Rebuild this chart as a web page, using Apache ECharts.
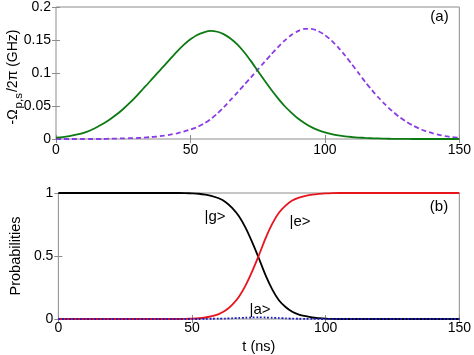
<!DOCTYPE html>
<html><head><meta charset="utf-8">
<script src="https://cdn.jsdelivr.net/npm/echarts@6/dist/echarts.min.js"></script>
<style>html,body{margin:0;padding:0;background:#fff}#c{width:474px;height:355px}</style>
</head><body><div id="c"></div>
<script>
// ---- data ----
const tGrid = [0,2.5,5,7.5,10,12.5,15,17.5,20,22.5,25,27.5,30,32.5,35,37.5,40,42.5,45,47.5,
  50,52.5,55,57.5,60,62.5,65,67.5,70,72.5,75,77.5,80,82.5,85,87.5,90,92.5,95,97.5,
  100,102.5,105,107.5,110,112.5,115,117.5,120,122.5,125,127.5,130,132.5,135,137.5,140,142.5,145,147.5,150];

// panel (a): pulse amplitudes -Omega/2pi (GHz)
const omegaS = [0.002,0.003,0.0045,0.0065,0.009,0.0125,0.0175,0.023,0.0295,0.037,
  0.0455,0.055,0.0655,0.0765,0.0875,0.099,0.110,0.1215,0.1325,0.1425,
  0.151,0.1575,0.1615,0.1637,0.1625,0.1585,0.152,0.143,0.1315,0.118,
  0.1035,0.089,0.075,0.062,0.050,0.040,0.031,0.024,0.018,0.0135,
  0.010,0.0075,0.0055,0.004,0.003,0.0022,0.0016,0.0011,0.0008,0.0005,
  0.0003,0.0002,0.0001,0,0,0,0,0,0,0,
  0];
const omegaP = [0,0,0,0,0,0,0,0,0.0005,0.0007,
  0.001,0.0012,0.0015,0.002,0.0028,0.0038,0.005,0.0066,0.0087,0.0112,
  0.0143,0.018,0.0233,0.030,0.0385,0.0485,0.0595,0.0705,0.082,0.0935,
  0.105,0.1165,0.128,0.139,0.149,0.1575,0.1635,0.167,0.1668,0.1635,
  0.1575,0.149,0.1385,0.1265,0.1135,0.100,0.0865,0.074,0.0625,0.052,
  0.0425,0.034,0.027,0.021,0.016,0.012,0.0088,0.0062,0.0042,0.0027,
  0.0017];

// panel (b): state probabilities
const probG = [1,1,1,1,1,1,1,1,1,1,1,1,1,1,1,1,1,1,1,
  0.999,0.997,0.994,0.987,0.976,0.958,0.929,0.882,0.817,0.725,0.610,0.482,0.348,0.235,0.149,0.095,0.057,0.035,0.022,0.012,0.007,0.003,0.001,
  0,0,0,0,0,0,0,0,0,0,0,0,0,0,0,0,0,0,0];
const probE = [0,0,0,0,0,0,0,0,0,0,0,0,0,0,0,0,0,0,0,
  0.001,0.003,0.006,0.012,0.022,0.039,0.067,0.112,0.175,0.265,0.378,0.505,0.64,0.755,0.843,0.90,0.94,0.963,0.977,0.987,0.993,0.997,0.999,
  1,1,1,1,1,1,1,1,1,1,1,1,1,1,1,1,1,1,1];
const probA = [0,0,0,0,0,0,0,0,0,0,0,0,0,0,0,0,0,0,0,0,0,0,
  0.001,0.002,0.003,0.004,0.006,0.008,0.010,0.012,0.013,0.012,0.010,0.008,0.005,0.003,0.002,0.001,0.001,
  0,0,0,0,0,0,0,0,0,0,0,0,0,0,0,0,0,0,0,0,0,0];

const tRange = [0, 150], tStep = 50;
const pulseRange = [0, 0.2], pulseStep = 0.05;
const probRange = [0, 1], probStep = 0.5;

// ---- styles ----
const FONT = '"Liberation Sans", Arial, Helvetica, sans-serif';
const GRAY = '#8c8c8c';
const pair = (xs, ys) => xs.map((x, i) => [x, ys[i]]);

function xAx(grid, pos, showLabel, margin, extra) {
  return Object.assign({
    gridIndex: grid, type: 'value', position: pos, min: tRange[0], max: tRange[1], interval: tStep,
    axisLine: { show: false },
    axisTick: { show: true, inside: true, length: 4, lineStyle: { color: GRAY, width: 1 } },
    axisLabel: { show: showLabel, margin: margin, color: '#000', fontSize: 14, fontFamily: FONT, hideOverlap: false, showMinLabel: true, showMaxLabel: true },
    splitLine: { show: false }
  }, extra || {});
}
function yAx(grid, pos, showLabel, range, step, extra) {
  return Object.assign({
    gridIndex: grid, type: 'value', position: pos, min: range[0], max: range[1], interval: step,
    axisLine: { show: false },
    axisTick: { show: true, inside: true, length: 4, lineStyle: { color: GRAY, width: 1 } },
    axisLabel: { show: showLabel, margin: 5, color: '#000', fontSize: 14, fontFamily: FONT, hideOverlap: false, showMinLabel: true, showMaxLabel: true },
    splitLine: { show: false }
  }, extra || {});
}
function line(name, xi, yi, data, color, type, width, z) {
  return {
    name: name, type: 'line', xAxisIndex: xi, yAxisIndex: yi, data: data,
    showSymbol: false, smooth: 0.25, clip: true, z: z || 2,
    lineStyle: { color: color, width: width, type: type }, silent: true, animation: false
  };
}

const chart = echarts.init(document.getElementById('c'), null, { renderer: 'canvas' });
chart.setOption({
  backgroundColor: '#fff',
  animation: false,
  grid: [
    { left: 56, top: 5, width: 406, height: 134, show: true, borderColor: GRAY, borderWidth: 1, backgroundColor: 'transparent' },
    { left: 56, top: 193, width: 406, height: 127, show: true, borderColor: GRAY, borderWidth: 1, backgroundColor: 'transparent' }
  ],
  xAxis: [
    xAx(0, 'bottom', true, 4),
    xAx(0, 'top', false, 4),
    xAx(1, 'bottom', true, 2, { name: 't (ns)', nameLocation: 'middle', nameGap: 20,
      nameTextStyle: { color: '#000', fontSize: 14.5, fontFamily: FONT } }),
    xAx(1, 'top', false, 2)
  ],
  yAxis: [
    yAx(0, 'left', true, pulseRange, pulseStep),
    yAx(0, 'right', false, pulseRange, pulseStep),
    yAx(1, 'left', true, probRange, probStep, { name: 'Probabilities', nameLocation: 'middle', nameGap: 28,
      nameTextStyle: { color: '#000', fontSize: 14.5, fontFamily: FONT } }),
    yAx(1, 'right', false, probRange, probStep)
  ],
  series: [
    line('Ωs', 0, 0, pair(tGrid, omegaS), '#0c7a12', 'solid', 1.8, 3),
    line('Ωp', 0, 0, pair(tGrid, omegaP), '#8a3ce6', [5, 3], 1.8, 2),
    line('|g>', 2, 2, pair(tGrid, probG), '#000000', 'solid', 1.8, 3),
    line('|e>', 2, 2, pair(tGrid, probE), '#e8141c', 'solid', 1.8, 4),
    line('|a>', 2, 2, pair(tGrid, probA), '#1c1cc0', 'dotted', 1.8, 5)
  ],
  graphic: [
    { type: 'text', x: 13.5, y: 77, rotation: Math.PI / 2, silent: true,
      style: { text: '{a|-Ω}{b|p,s}{a|/2π (GHz)}', align: 'center', verticalAlign: 'middle',
        rich: {
          a: { fontSize: 14, fontFamily: FONT, fill: '#000', lineHeight: 22 },
          b: { fontSize: 11.5, fontFamily: FONT, fill: '#000', lineHeight: 12, padding: [10, 1, 0, 1] }
        } } },
    { type: 'text', x: 439.5, y: 16.5, silent: true,
      style: { text: '(a)', font: '15px ' + FONT, fill: '#000', align: 'center', verticalAlign: 'middle' } },
    { type: 'text', x: 439, y: 206.5, silent: true,
      style: { text: '(b)', font: '15px ' + FONT, fill: '#000', align: 'center', verticalAlign: 'middle' } },
    { type: 'text', x: 215, y: 216.5, silent: true,
      style: { text: '|g>', font: '15px ' + FONT, fill: '#000', align: 'center', verticalAlign: 'middle' } },
    { type: 'text', x: 300, y: 221.5, silent: true,
      style: { text: '|e>', font: '15px ' + FONT, fill: '#000', align: 'center', verticalAlign: 'middle' } },
    { type: 'text', x: 260, y: 309.5, silent: true,
      style: { text: '|a>', font: '15px ' + FONT, fill: '#000', align: 'center', verticalAlign: 'middle' } }
  ]
});
</script>
</body></html>
